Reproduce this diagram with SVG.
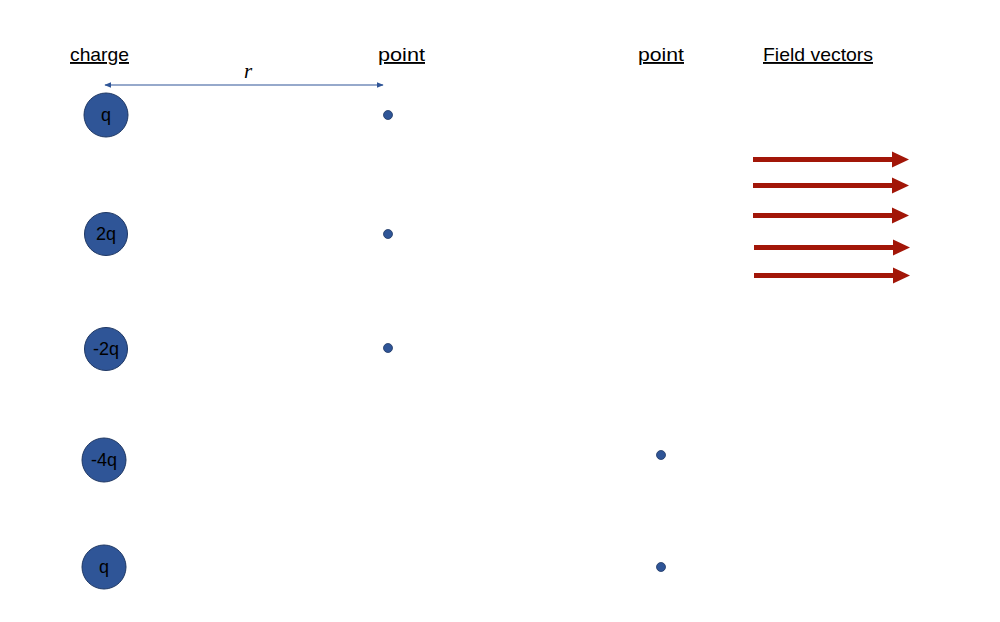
<svg xmlns="http://www.w3.org/2000/svg" width="1000" height="622" viewBox="0 0 1000 622">
<defs>
<style>
.hd{font-family:"Liberation Sans",Arial,sans-serif;font-size:19px;fill:#000;text-decoration:underline;}
.lb{font-family:"Liberation Sans",Arial,sans-serif;font-size:18px;fill:#000;text-anchor:middle;}
.ch{fill:#2F5597;stroke:#1F3864;stroke-width:1;}
.pt{fill:#2F5597;stroke:#1F3864;stroke-width:0.8;}
.fv{stroke:#A21608;stroke-width:5;fill:none;}
.ah{fill:#A21608;}
</style>
<marker id="sm" viewBox="0 0 10 10" refX="9" refY="5" markerWidth="7" markerHeight="7" orient="auto-start-reverse" markerUnits="userSpaceOnUse">
<path d="M0,1 L10,5 L0,9 z" fill="#2F5597"/>
</marker>
</defs>
<rect width="1000" height="622" fill="#fff"/>
<g id="headings">
<text class="hd" x="70" y="61" textLength="59" lengthAdjust="spacingAndGlyphs">charge</text>
<text class="hd" x="378" y="61" textLength="47" lengthAdjust="spacingAndGlyphs">point</text>
<text class="hd" x="638" y="61" textLength="46" lengthAdjust="spacingAndGlyphs">point</text>
<text class="hd" x="763" y="61" textLength="110" lengthAdjust="spacingAndGlyphs">Field vectors</text>
</g>
<g id="connectors">
<line x1="105" y1="85" x2="383" y2="85" stroke="#2F5597" stroke-width="1.2" marker-start="url(#sm)" marker-end="url(#sm)"/>
<text x="248" y="78" font-family="Liberation Serif,serif" font-style="italic" font-size="21" text-anchor="middle">r</text>
</g>
<g id="charge-q1"><circle class="ch" cx="106" cy="115" r="22"/><text class="lb" x="106" y="121">q</text></g>
<g id="charge-2q"><circle class="ch" cx="106" cy="234" r="21.5"/><text class="lb" x="106" y="240">2q</text></g>
<g id="charge-m2q"><circle class="ch" cx="106" cy="349" r="21.5"/><text class="lb" x="106" y="355">-2q</text></g>
<g id="charge-m4q"><circle class="ch" cx="104" cy="460" r="22"/><text class="lb" x="104" y="466">-4q</text></g>
<g id="charge-q2"><circle class="ch" cx="104" cy="567" r="22"/><text class="lb" x="104" y="573">q</text></g>
<g id="point-1"><circle class="pt" cx="388" cy="115" r="4.5"/></g>
<g id="point-2"><circle class="pt" cx="388" cy="234" r="4.5"/></g>
<g id="point-3"><circle class="pt" cx="388" cy="348" r="4.5"/></g>
<g id="point-4"><circle class="pt" cx="661" cy="455" r="4.5"/></g>
<g id="point-5"><circle class="pt" cx="661" cy="567" r="4.5"/></g>
<g id="field-vectors">
<line class="fv" x1="753" y1="159.5" x2="893" y2="159.5"/><path class="ah" d="M892,151.5 L909,159.5 L892,167.5 z"/>
<line class="fv" x1="753" y1="185.5" x2="893" y2="185.5"/><path class="ah" d="M892,177.5 L909,185.5 L892,193.5 z"/>
<line class="fv" x1="753" y1="215.5" x2="893" y2="215.5"/><path class="ah" d="M892,207.5 L909,215.5 L892,223.5 z"/>
<line class="fv" x1="754" y1="247.5" x2="894" y2="247.5"/><path class="ah" d="M893,239.5 L910,247.5 L893,255.5 z"/>
<line class="fv" x1="754" y1="275.5" x2="894" y2="275.5"/><path class="ah" d="M893,267.5 L910,275.5 L893,283.5 z"/>
</g>
</svg>
